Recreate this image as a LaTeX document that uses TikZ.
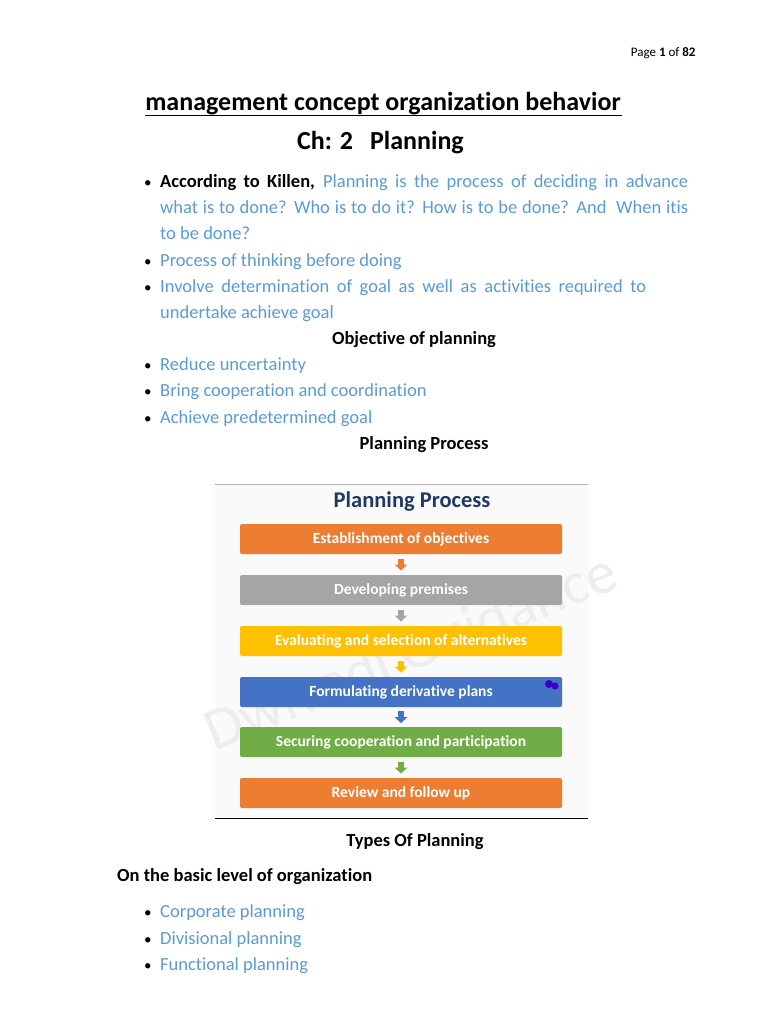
\documentclass[tikz,border=0pt]{standalone}
\usepackage{fontspec}
\setmainfont[RawFeature=-liga]{Carlito}
\usepackage{xcolor}
\definecolor{bl}{HTML}{5B9BD5}
\definecolor{orng}{HTML}{ED7D31}
\definecolor{gry}{HTML}{A5A5A5}
\definecolor{ylw}{HTML}{FFC000}
\definecolor{blu}{HTML}{4472C4}
\definecolor{grn}{HTML}{70AD47}
\definecolor{navy}{HTML}{1F3864}
\begin{document}
\begin{tikzpicture}[x=1pt,y=-1pt,
  body/.style={font=\fontsize{18.5}{26}\selectfont, inner sep=0pt},
  bul/.style={body, anchor=base west, text=bl},
  dot/.style={font=\fontsize{15}{26}\selectfont, inner sep=0pt, anchor=base west},
  stepbox/.style={fill=#1, rounded corners=2pt, minimum width=322pt, minimum height=30pt, text=white, font=\fontsize{15.5}{17}\selectfont\bfseries, inner sep=0pt},
]
\useasboundingbox (0,0) rectangle (768,1024);
\fill[white] (0,0) rectangle (768,1024);
\node[font=\fontsize{13}{15}\selectfont, anchor=base east] (pg) at (699,57) {Page \textbf{1} of \textbf{82}};
\node[font=\fontsize{26}{30}\selectfont\bfseries, anchor=base] (t1) at (383,111) {management concept organization behavior};
\draw[line width=1pt] (145,116) -- (622,116);
\node[font=\fontsize{26}{30}\selectfont\bfseries, anchor=base west, inner sep=0pt] (t2) at (297,150) {Ch: 2\hspace{17pt}Planning};
% first bullet paragraph
\node[dot] (d1) at (144,188) {\textbullet};
\node[body, anchor=base west] (l1) at (160,188) {\makebox[528pt][s]{\textbf{According to Killen,} {\color{bl}Planning is the process of deciding in advance}}};
\node[body, anchor=base west, text=bl] (l2) at (160,214) {\makebox[528pt][s]{what is to done? Who is to do it? How is to be done? And\ \ When itis}};
\node[bul] (l3) at (160,240) {to be done?};
\node[dot] (d2) at (144,266) {\textbullet};
\node[bul] (b2) at (160,266) {Process of thinking before doing};
\node[dot] (d3) at (144,292) {\textbullet};
\node[body, anchor=base west, text=bl] (l4) at (160,292) {\makebox[486pt][s]{Involve determination of goal as well as activities required to}};
\node[bul] (l5) at (160,318) {undertake achieve goal};
\node[body, anchor=base, font=\fontsize{18.5}{26}\selectfont\bfseries] (h1) at (414,344) {Objective of planning};
\node[dot] (d4) at (144,370) {\textbullet};
\node[bul] (b4) at (160,370) {Reduce uncertainty};
\node[dot] (d5) at (144,396) {\textbullet};
\node[bul] (b5) at (160,396) {Bring cooperation and coordination};
\node[dot] (d6) at (144,423) {\textbullet};
\node[bul] (b6) at (160,423) {Achieve predetermined goal};
\node[body, anchor=base, font=\fontsize{18.5}{26}\selectfont\bfseries] (h2) at (424,449) {Planning Process};
% figure
\fill[white!96!gray] (215,484) rectangle (588,818);
\draw[gray!60] (215,484) -- (588,484);
\draw[line width=1pt] (215,818) -- (588,818);
\node[rotate=22, text=gray!14, font=\fontsize{60}{64}\selectfont\rmfamily] (wm) at (410,650) {Dwivedi Guidance};
\node[font=\fontsize{22.5}{26}\selectfont\bfseries, text=navy] (ft) at (412,502) {Planning Process};
\node[stepbox=orng] (s1) at (401,539) {Establishment of objectives};
\node[stepbox=gry] (s2) at (401,590) {Developing premises};
\node[stepbox=ylw] (s3) at (401,641) {Evaluating and selection of alternatives};
\node[stepbox=blu] (s4) at (401,692) {Formulating derivative plans};
\node[stepbox=grn] (s5) at (401,742) {Securing cooperation and participation};
\node[stepbox=orng] (s6) at (401,793) {Review and follow up};
\foreach \a/\b/\c in {s1/s2/orng,s2/s3/gry,s3/s4/ylw,s4/s5/blu,s5/s6/grn}{
  \path (\a.south) -- (\b.north) coordinate[pos=0.5] (m\a);
  \fill[\c] ([xshift=-3pt,yshift=6pt]m\a) rectangle ([xshift=3pt,yshift=0pt]m\a);
  \fill[\c] ([xshift=-6.5pt]m\a) -- ([xshift=6.5pt]m\a) -- ([yshift=-6pt]m\a) -- cycle;
}
\fill[blue!70!purple] (549,684) circle (4pt) (555,686) circle (3.5pt);
\node[body, anchor=base, font=\fontsize{18.5}{26}\selectfont\bfseries] (h3) at (415,846) {Types Of Planning};
\node[body, anchor=base west, font=\fontsize{18.5}{26}\selectfont\bfseries] (h4) at (117,881) {On the basic level of organization};
\node[dot] (d7) at (144,917) {\textbullet};
\node[bul] (b7) at (160,917) {Corporate planning};
\node[dot] (d8) at (144,944) {\textbullet};
\node[bul] (b8) at (160,944) {Divisional planning};
\node[dot] (d9) at (144,970) {\textbullet};
\node[bul] (b9) at (160,970) {Functional planning};
\end{tikzpicture}
\end{document}
